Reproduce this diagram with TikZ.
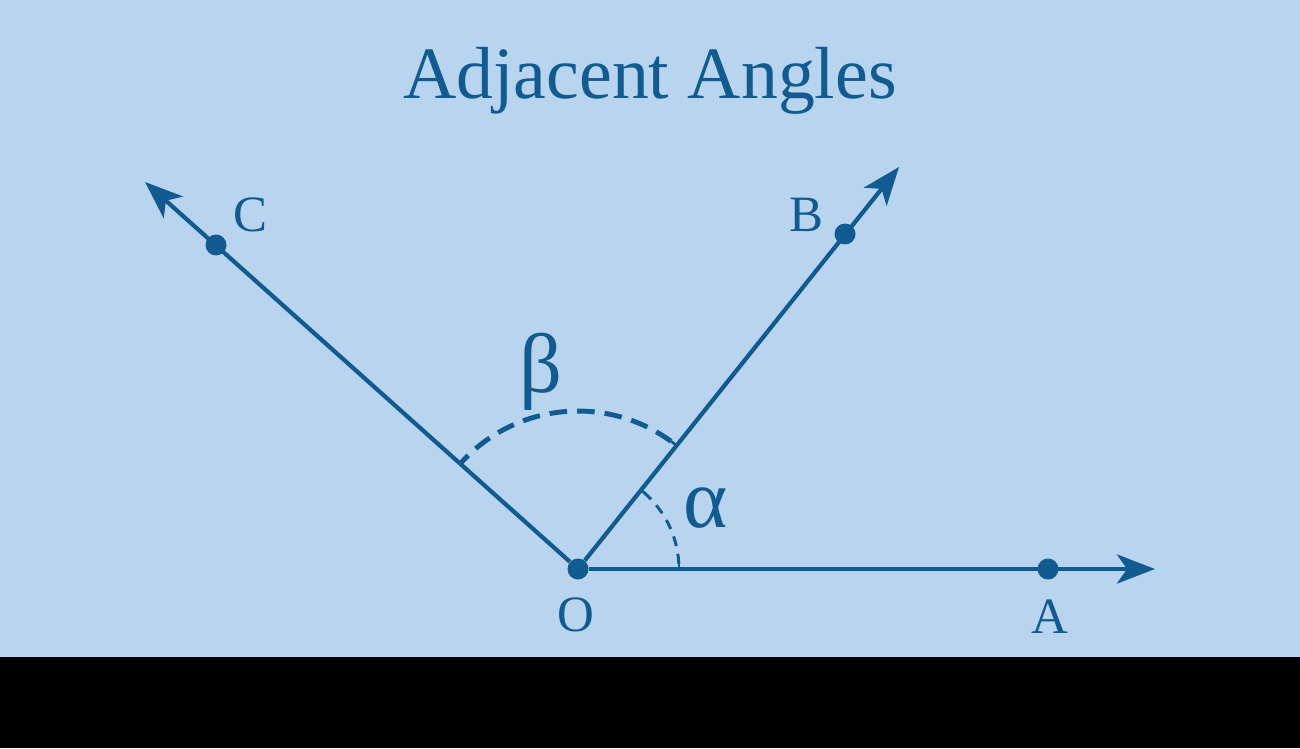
\documentclass[tikz,border=0pt]{standalone}
\usepackage{fontspec}
\usetikzlibrary{arrows.meta}
\setmainfont{Liberation Serif}
\newfontfamily\greekfont{Liberation Serif}
\definecolor{bgblue}{RGB}{185,212,238}
\definecolor{inkblue}{RGB}{17,91,145}

\begin{document}
\begin{tikzpicture}[x=0.02cm,y=0.02cm,
  ray/.style={inkblue,line width=2.4pt,-{Stealth[length=0.76cm,width=0.58cm,inset=0.2cm]}},
  dot/.style={circle,fill=inkblue,inner sep=0pt,minimum size=0.42cm},
  lbl/.style={text=inkblue,font=\fontsize{29}{32}\selectfont},
  greek/.style={text=inkblue,font=\greekfont\fontsize{48}{52}\selectfont},
  tick/.style={inkblue,line width=1.5pt}]
  \fill[bgblue] (0,91) rectangle (1300,748);
  \fill[black] (0,0) rectangle (1300,91);
  \useasboundingbox (0,0) rectangle (1300,748);
  \node[text=inkblue,font=\fontsize{42}{50}\selectfont] (title) at (650,667) {Adjacent Angles};
  \node[dot] (O) at (578,179) {};
  \node[dot] (A) at (1048,179) {};
  \node[dot] (B) at (845,514) {};
  \node[dot] (C) at (216,503) {};
  \coordinate (tipA) at (1155,179);
  \coordinate (tipB) at (899,581);
  \coordinate (tipC) at (145,566);
  \path[ray]
    (O) edge (tipA)
    (O) edge (tipB)
    (O) edge (tipC);
  \node[lbl] (labO) at (576,133) {O};
  \node[lbl] (labA) at (1050,131) {A};
  \node[lbl] (labB) at (806,533) {B};
  \node[lbl] (labC) at (250,533) {C};
  \draw[inkblue,line width=2.8pt,dash pattern=on 10pt off 5.7pt,dash phase=-4pt]
    ([shift={(51.4:3.16cm)}]O.center) arc[start angle=51.4,end angle=138.2,radius=3.16cm];
  \draw[tick] ([shift={(51.4:3.16cm)}]O.center) -- ++(141.4:0.14cm);
  \draw[tick] ([shift={(138.2:3.16cm)}]O.center) -- ++(48.2:0.14cm);
  \draw[inkblue,line width=1.7pt,dash pattern=on 5.7pt off 4.5pt,dash phase=-3pt]
    ([shift={(0:2.02cm)}]O.center) arc[start angle=0,end angle=51.4,radius=2.02cm];
  \draw[tick] ([shift={(0:2.02cm)}]O.center) -- ++(90:0.12cm);
  \draw[tick] ([shift={(51.4:2.02cm)}]O.center) -- ++(-38.6:0.12cm);
  \node[greek] (alpha) at (706,240) {α};
  \node[greek] (beta) at (541,376) {β};
\end{tikzpicture}
\end{document}
